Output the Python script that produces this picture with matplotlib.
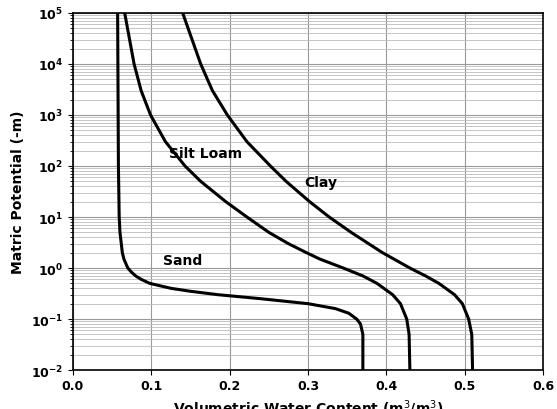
import matplotlib
matplotlib.use("Agg")
import matplotlib.pyplot as plt
from matplotlib.ticker import LogLocator, FixedLocator

sand_h = [0.01, 0.05, 0.08, 0.1, 0.13, 0.16, 0.2, 0.25, 0.3, 0.35, 0.4, 0.5, 0.6, 0.7, 0.85, 1, 1.5, 2, 5, 10, 100, 1e5]
sand_t = [0.37, 0.37, 0.367, 0.362, 0.352, 0.335, 0.30, 0.24, 0.185, 0.15, 0.125, 0.098, 0.087, 0.08, 0.074, 0.070, 0.065, 0.063, 0.060, 0.059, 0.058, 0.057]
silt_h = [0.01, 0.05, 0.1, 0.2, 0.3, 0.5, 0.7, 1, 1.5, 2, 3, 5, 10, 20, 50, 100, 300, 1000, 3000, 1e4, 1e5]
silt_t = [0.43, 0.429, 0.426, 0.418, 0.408, 0.388, 0.37, 0.345, 0.315, 0.298, 0.275, 0.25, 0.222, 0.195, 0.163, 0.143, 0.118, 0.099, 0.087, 0.078, 0.066]
clay_h = [0.01, 0.05, 0.1, 0.2, 0.3, 0.5, 0.7, 1, 2, 5, 10, 20, 50, 100, 300, 1000, 3000, 1e4, 1e5]
clay_t = [0.51, 0.509, 0.505, 0.497, 0.487, 0.467, 0.45, 0.43, 0.395, 0.355, 0.327, 0.302, 0.272, 0.252, 0.222, 0.197, 0.178, 0.163, 0.14]

fig = plt.figure(figsize=(5.57, 4.10), dpi=100)
ax = fig.add_axes([0.131, 0.095, 0.844, 0.871])
for t, h in [(sand_t, sand_h), (silt_t, silt_h), (clay_t, clay_h)]:
    ax.plot(t, h, color="black", lw=2.2)
ax.set_yscale("log")
ax.set_xlim(0, 0.6)
ax.set_ylim(1e-2, 1e5)
ax.xaxis.set_major_locator(FixedLocator([0, 0.1, 0.2, 0.3, 0.4, 0.5, 0.6]))
ax.set_xticklabels(["0.0", "0.1", "0.2", "0.3", "0.4", "0.5", "0.6"], fontweight="bold", fontsize=9)
ax.yaxis.set_major_locator(LogLocator(base=10, numticks=10))
ax.yaxis.set_minor_locator(LogLocator(base=10, subs=range(2, 10), numticks=100))
for lab in ax.get_yticklabels():
    lab.set_fontweight("bold")
ax.tick_params(axis="y", labelsize=9)
ax.tick_params(axis="x", pad=3)
ax.grid(True, which="major", axis="both", color="#999999", lw=0.8)
ax.grid(True, which="minor", axis="y", color="#bbbbbb", lw=0.6)
ax.set_axisbelow(True)
ax.text(0.122, 150, "Silt Loam", fontweight="bold", fontsize=10)
ax.text(0.295, 40, "Clay", fontweight="bold", fontsize=10)
ax.text(0.115, 1.2, "Sand", fontweight="bold", fontsize=10)
ax.set_xlabel("Volumetric Water Content (m$^3$/m$^3$)", fontweight="bold", fontsize=10, labelpad=4)
ax.set_ylabel("Matric Potential (-m)", fontweight="bold", fontsize=10)
for s in ax.spines.values():
    s.set_linewidth(1.2)
fig.savefig("out.png", dpi=100)
